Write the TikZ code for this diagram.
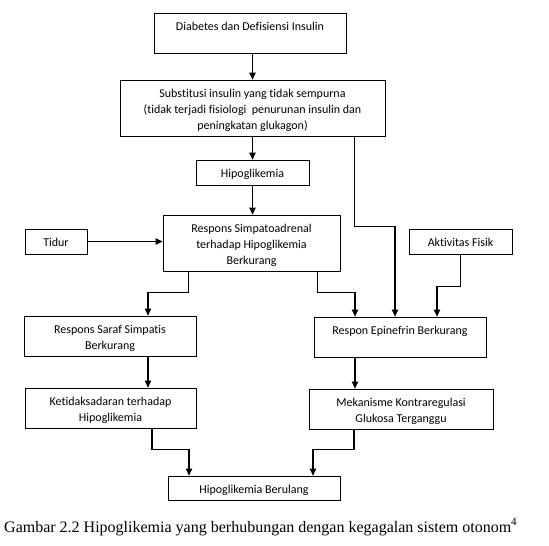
\documentclass[tikz,border=0pt]{standalone}
\usepackage{fontspec}
\setmainfont{Liberation Serif}
\newfontfamily\boxfont[Ligatures=NoCommon]{Carlito}
\usetikzlibrary{arrows.meta}

\begin{document}
\begin{tikzpicture}[x=1pt,y=-1pt]
    \tikzstyle{box}=[rectangle,draw,line width=0.8pt,inner sep=0pt]
    \tikzstyle{txt}=[anchor=north,yshift=-9.5pt,inner sep=0pt,align=center,font=\boxfont\fontsize{12}{16}\selectfont]
    \tikzstyle{arr}=[-{Triangle[length=7pt,width=6.5pt]},line width=1.1pt]
    \useasboundingbox (0,0) rectangle (549,546);
    % boxes
    \node [box,minimum width=192pt,minimum height=40pt,label={[txt]north:Diabetes dan Defisiensi Insulin}] (diabetes) at (250,33) {};
    \node [box,minimum width=265pt,minimum height=56pt,label={[txt]north:Substitusi insulin yang tidak sempurna\\(tidak terjadi fisiologi\ \ penurunan insulin dan\\peningkatan glukagon)}] (subst) at (252.5,108) {};
    \node [box,minimum width=113pt,minimum height=25pt,label={[txt]north:Hipoglikemia}] (hipo) at (252.5,172.5) {};
    \node [box,minimum width=177pt,minimum height=56pt,label={[txt]north:Respons Simpatoadrenal\\terhadap Hipoglikemia\\Berkurang}] (simpato) at (251.5,243) {};
    \node [box,minimum width=62pt,minimum height=25pt,label={[txt]north:Tidur}] (tidur) at (56,241.5) {};
    \node [box,minimum width=103pt,minimum height=25pt,label={[txt]north:Aktivitas Fisik}] (aktivitas) at (460.5,241.5) {};
    \node [box,minimum width=172pt,minimum height=40pt,label={[txt]north:Respons Saraf Simpatis\\Berkurang}] (saraf) at (110,336) {};
    \node [box,minimum width=172pt,minimum height=40pt,label={[txt]north:Respon Epinefrin Berkurang}] (epinefrin) at (400,337) {};
    \node [box,minimum width=171pt,minimum height=40pt,label={[txt]north:Ketidaksadaran terhadap\\Hipoglikemia}] (tidaksadar) at (110.5,408) {};
    \node [box,minimum width=184pt,minimum height=40pt,label={[txt]north:Mekanisme Kontraregulasi\\Glukosa Terganggu}] (kontra) at (401,409) {};
    \node [box,minimum width=172pt,minimum height=24pt,label={[txt]north:Hipoglikemia Berulang}] (berulang) at (254,488) {};
    % connectors
    \draw [arr] (diabetes.south -| subst.north) -- (subst.north);
    \draw [arr] (subst.south) -- (hipo.north);
    \draw [arr] (hipo.south) -- (hipo.south |- simpato.north);
    \draw [arr] (tidur.east) -- (tidur.east -| simpato.west);
    \draw [arr] ([xshift=-31pt]subst.south east) -- ++(0,90) -| ([xshift=-5pt]epinefrin.north);
    \draw [arr] (aktivitas.south) -- ++(0,32) -| ([xshift=37pt]epinefrin.north);
    \draw [arr] ([xshift=26pt]simpato.south west) -- ++(0,21) -| ([xshift=38pt]saraf.north);
    \draw [arr] ([xshift=-23pt]simpato.south east) -- ++(0,21) -| ([xshift=-45pt]epinefrin.north);
    \draw [arr] ([xshift=38pt]saraf.south) coordinate (s1) -- (s1 |- tidaksadar.north);
    \draw [arr] ([xshift=-45pt]epinefrin.south) coordinate (e1) -- (e1 |- kontra.north);
    \draw [arr] ([xshift=41.5pt]tidaksadar.south) -- ++(0,21) -| ([xshift=-65pt]berulang.north);
    \draw [arr] ([xshift=-47pt]kontra.south) -- ++(0,20) -| ([xshift=59pt]berulang.north);
    % caption
    \node [anchor=base west,inner sep=0pt,font=\fontsize{16}{18}\selectfont] (caption) at (4,532) {Gambar 2.2 Hipoglikemia yang berhubungan dengan kegagalan sistem otonom\textsuperscript{4}};
\end{tikzpicture}
\end{document}
